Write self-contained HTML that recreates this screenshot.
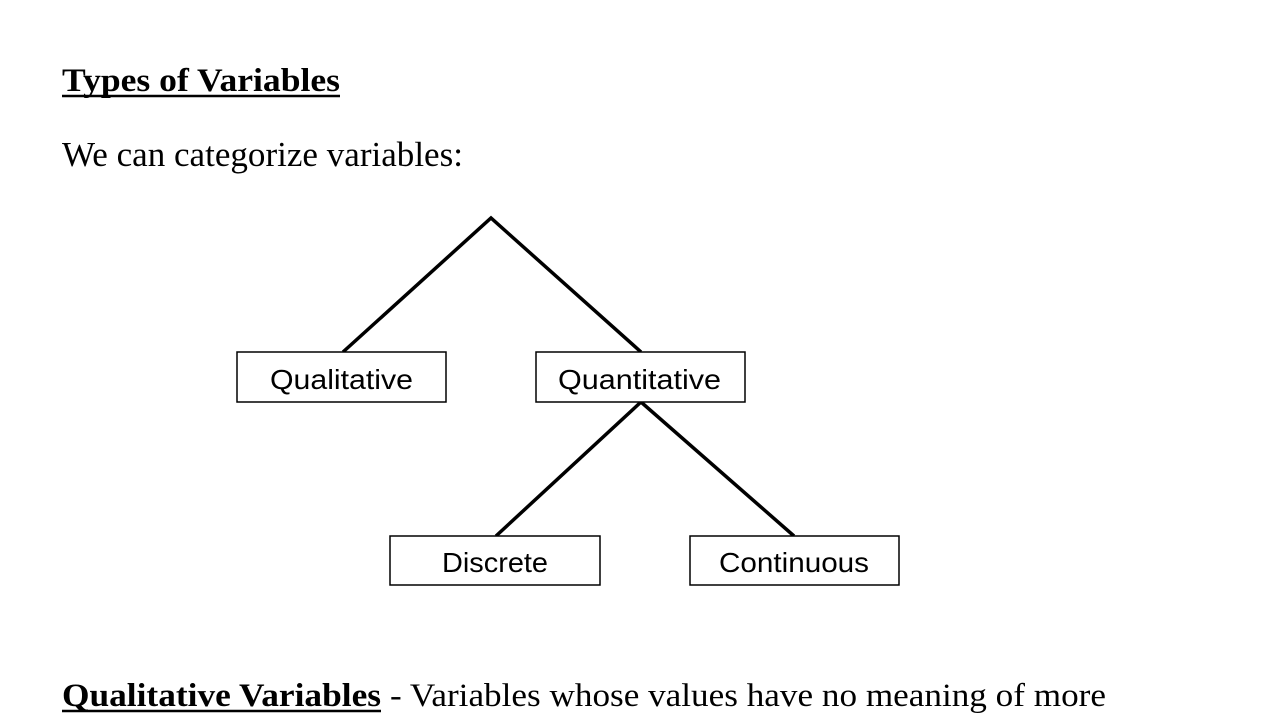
<!DOCTYPE html>
<html><head><style>
html,body{margin:0;padding:0;background:#fff;width:1280px;height:720px;overflow:hidden}
</style></head><body>
<svg width="1280" height="720" xmlns="http://www.w3.org/2000/svg">
<g font-family="Liberation Serif, serif" fill="#000">
<text x="62" y="91" font-size="33" font-weight="bold" textLength="278" lengthAdjust="spacingAndGlyphs">Types of Variables</text>
<line x1="62" y1="96" x2="340" y2="96" stroke="#000" stroke-width="2.5"/>
<text x="62" y="166" font-size="35" textLength="401" lengthAdjust="spacingAndGlyphs">We can categorize variables:</text>
<text x="62" y="706" font-size="33" font-weight="bold" textLength="319" lengthAdjust="spacingAndGlyphs">Qualitative Variables</text>
<line x1="62" y1="711" x2="381" y2="711" stroke="#000" stroke-width="2.5"/>
<text x="390" y="706" font-size="33" textLength="716" lengthAdjust="spacingAndGlyphs">- Variables whose values have no meaning of more</text>
</g>
<g stroke="#000" stroke-width="3.5" fill="none">
<polyline points="343,352 491,218 641,352"/>
<polyline points="496,536 641,402 794,536"/>
</g>
<g stroke="#000" stroke-width="1.5" fill="#fff">
<rect x="237" y="352" width="209" height="50"/>
<rect x="536" y="352" width="209" height="50"/>
<rect x="390" y="536" width="210" height="49"/>
<rect x="690" y="536" width="209" height="49"/>
</g>
<g font-family="Liberation Sans, sans-serif" font-size="28" fill="#000" lengthAdjust="spacingAndGlyphs">
<text x="270" y="389" textLength="143" lengthAdjust="spacingAndGlyphs">Qualitative</text>
<text x="558" y="389" textLength="163" lengthAdjust="spacingAndGlyphs">Quantitative</text>
<text x="442" y="572" textLength="106" lengthAdjust="spacingAndGlyphs">Discrete</text>
<text x="719" y="572" textLength="150" lengthAdjust="spacingAndGlyphs">Continuous</text>
</g>
</svg>
</body></html>
